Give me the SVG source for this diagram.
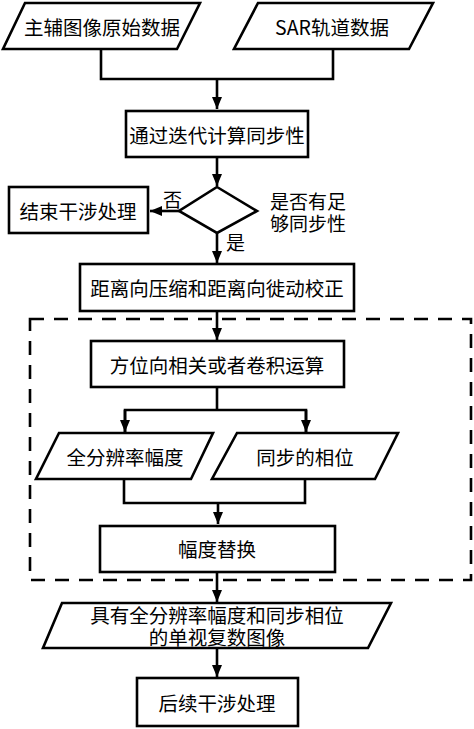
<svg xmlns="http://www.w3.org/2000/svg" width="474" height="729" viewBox="0 0 474 729">
<defs>
<style>
.s{fill:#fff;stroke:#000;stroke-width:2.6}
.c{fill:none;stroke:#000;stroke-width:2.6}
.t{font-family:"Noto Sans CJK SC","Liberation Sans",sans-serif;font-size:19.5px;fill:#000;text-anchor:middle;dominant-baseline:central}
.l{font-family:"Noto Sans CJK SC","Liberation Sans",sans-serif;font-size:19px;fill:#000;dominant-baseline:central}
</style>
<marker id="a" viewBox="0 0 12 10" refX="12" refY="5" markerWidth="12" markerHeight="10" markerUnits="userSpaceOnUse" orient="auto">
<path d="M0,0 L12,5 L0,10 z" fill="#000"/>
</marker>
</defs>
<rect width="474" height="729" fill="#fff"/>
<g id="group">
<rect x="30" y="319" width="441" height="261" fill="none" stroke="#000" stroke-width="2.6" stroke-dasharray="14,10"/>
</g>
<g id="connectors">
<path class="c" d="M101,49 V79 H333 V49"/>
<path class="c" d="M217,79 V109" marker-end="url(#a)"/>
<path class="c" d="M217,157 V186" marker-end="url(#a)"/>
<path class="c" d="M179,211 H150" marker-end="url(#a)"/>
<path class="c" d="M217,233 V263" marker-end="url(#a)"/>
<path class="c" d="M217,311 V340" marker-end="url(#a)"/>
<path class="c" d="M217,387 V410"/>
<path class="c" d="M125,433 V410 H306 V433"/>
<path class="c" d="M125,410 V432" marker-end="url(#a)"/>
<path class="c" d="M306,410 V432" marker-end="url(#a)"/>
<path class="c" d="M124,479 V503 H305 V479"/>
<path class="c" d="M218,503 V524" marker-end="url(#a)"/>
<path class="c" d="M217,572 V602" marker-end="url(#a)"/>
<path class="c" d="M217,648 V677" marker-end="url(#a)"/>
</g>
<g id="n1">
<polygon class="s" points="25,3 200,3 177,49 3,49"/>
<text class="t" x="102" y="26">主辅图像原始数据</text>
</g>
<g id="n2">
<polygon class="s" points="258,3 433,3 409,49 234,49"/>
<text class="t" x="332" y="26">SAR轨道数据</text>
</g>
<g id="n3">
<rect class="s" x="126" y="111" width="182" height="46"/>
<text class="t" x="217" y="134">通过迭代计算同步性</text>
</g>
<g id="n4">
<polygon class="s" points="217,187 257,211 217,233 179,211"/>
<text class="l" x="270" y="200">是否有足<tspan x="270" dy="22">够同步性</tspan></text>
<text class="l" x="163" y="198">否</text>
<text class="l" x="226" y="241">是</text>
</g>
<g id="n5">
<rect class="s" x="9" y="187" width="139" height="46"/>
<text class="t" x="78" y="210">结束干涉处理</text>
</g>
<g id="n6">
<rect class="s" x="80" y="264" width="274" height="47"/>
<text class="t" x="217" y="287">距离向压缩和距离向徙动校正</text>
</g>
<g id="n7">
<rect class="s" x="91" y="341" width="253" height="46"/>
<text class="t" x="217" y="364">方位向相关或者卷积运算</text>
</g>
<g id="n8">
<polygon class="s" points="59,433 213,433 191,479 36,479"/>
<text class="t" x="125" y="456">全分辨率幅度</text>
</g>
<g id="n9">
<polygon class="s" points="237,433 398,433 375,479 212,479"/>
<text class="t" x="305" y="456">同步的相位</text>
</g>
<g id="n10">
<rect class="s" x="100" y="526" width="235" height="46"/>
<text class="t" x="217" y="548">幅度替换</text>
</g>
<g id="n11">
<polygon class="s" points="62,603 391,603 368,648 43,648"/>
<text class="t" x="217" y="614">具有全分辨率幅度和同步相位<tspan x="217" dy="22">的单视复数图像</tspan></text>
</g>
<g id="n12">
<rect class="s" x="137" y="678" width="161" height="48"/>
<text class="t" x="217" y="702">后续干涉处理</text>
</g>
</svg>
